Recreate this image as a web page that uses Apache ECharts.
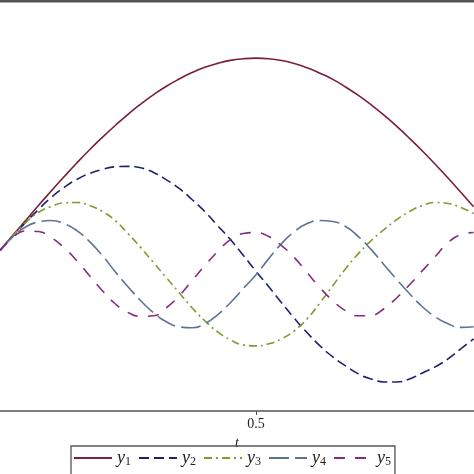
<!DOCTYPE html>
<html>
<head>
<meta charset="utf-8">
<script src="https://cdn.jsdelivr.net/npm/echarts@6/dist/echarts.min.js"></script>
<style>html,body{margin:0;padding:0;background:#fff;}#c{width:474px;height:474px;}</style>
</head>
<body>
<div id="c"></div>
<script>
var tValues = [0,0.025,0.05,0.075,0.1,0.125,0.15,0.175,0.2,0.225,0.25,0.275,0.3,0.325,0.35,0.375,0.4,0.425,0.45,0.475,0.5,0.525,0.55,0.575,0.6,0.625,0.65,0.675,0.7,0.725,0.75,0.775,0.8,0.825,0.85,0.875,0.9,0.925];
var y1 = [0,0.076,0.15,0.225,0.297,0.368,0.437,0.503,0.565,0.624,0.68,0.731,0.778,0.82,0.856,0.888,0.914,0.934,0.949,0.957,0.96,0.957,0.948,0.933,0.912,0.885,0.854,0.816,0.774,0.727,0.676,0.62,0.56,0.497,0.431,0.362,0.291,0.219];
var y2 = [0,0.07,0.14,0.205,0.265,0.315,0.355,0.385,0.405,0.418,0.42,0.413,0.39,0.353,0.31,0.255,0.195,0.125,0.055,-0.023,-0.103,-0.18,-0.26,-0.338,-0.41,-0.475,-0.53,-0.575,-0.615,-0.64,-0.655,-0.655,-0.64,-0.61,-0.58,-0.54,-0.49,-0.44];
var y3 = [0,0.073,0.14,0.19,0.22,0.238,0.24,0.225,0.195,0.15,0.085,0.015,-0.06,-0.135,-0.21,-0.285,-0.35,-0.405,-0.445,-0.47,-0.475,-0.465,-0.44,-0.4,-0.34,-0.26,-0.175,-0.09,-0.015,0.05,0.105,0.155,0.195,0.225,0.24,0.235,0.215,0.185];
var y4 = [0,0.07,0.118,0.143,0.15,0.135,0.1,0.045,-0.025,-0.105,-0.18,-0.25,-0.31,-0.355,-0.38,-0.385,-0.365,-0.32,-0.26,-0.19,-0.12,-0.04,0.035,0.095,0.135,0.15,0.145,0.12,0.07,0.005,-0.07,-0.145,-0.215,-0.28,-0.33,-0.365,-0.383,-0.38];
var y5 = [0,0.065,0.098,0.095,0.065,0.015,-0.05,-0.125,-0.2,-0.265,-0.308,-0.328,-0.325,-0.285,-0.225,-0.15,-0.075,-0.005,0.055,0.085,0.09,0.07,0.025,-0.035,-0.11,-0.185,-0.25,-0.3,-0.325,-0.323,-0.29,-0.235,-0.17,-0.1,-0.03,0.04,0.08,0.09];
var seriesNames = ['y1','y2','y3','y4','y5'];
var xTicks = [0.5];

var colors = ['#7a1f35','#1c2172','#7f9b2f','#5d7398','#872b7f'];
var dashes = ['solid',[10,5],[8,4,2,4],[20,6],[11,10]];
var allY = [y1,y2,y3,y4,y5];

function pairs(arr){ return tValues.map(function(t,i){ return [t, arr[i]]; }); }

var chart = echarts.init(document.getElementById('c'));
chart.setOption({
  animation: false,
  backgroundColor: '#fff',
  grid: {left: 0, right: 0, top: 0, bottom: 63, containLabel: false},
  xAxis: {
    type: 'value', min: 0, max: 0.9258, interval: 0.5,
    name: 't', nameLocation: 'middle', nameGap: 22,
    nameTextStyle: {fontFamily: 'Liberation Serif', fontStyle: 'italic', fontSize: 14, color: '#222'},
    axisLine: {onZero: false, lineStyle: {color: '#555', width: 1.5}},
    axisTick: {length: 4, customValues: xTicks, lineStyle: {color: '#555'}},
    axisLabel: {fontFamily: 'Liberation Serif', fontSize: 14, color: '#222', margin: 6, customValues: xTicks,
      formatter: function(v){ return String(v); }},
    splitLine: {show: false}
  },
  yAxis: {type: 'value', min: -0.8, max: 1.25, show: false},
  legend: {
    left: 71, top: 446, itemWidth: 38, itemHeight: 10, itemGap: 7,
    borderColor: '#555', borderWidth: 1.3, padding: [3, 4, 8, 2],
    data: seriesNames,
    itemStyle: {opacity: 0},
    formatter: function(n){ return '{v|y}{s|' + n.slice(1) + '}'; },
    textStyle: {
      color: '#222',
      rich: {
        v: {fontFamily: 'Liberation Serif', fontStyle: 'italic', fontSize: 18, color: '#222'},
        s: {fontFamily: 'Liberation Serif', fontSize: 12, color: '#222', verticalAlign: 'bottom', padding: [8, 0, 0, 0]}
      }
    }
  },
  graphic: [{type: 'rect', shape: {x: 0, y: 0, width: 474, height: 2.5}, style: {fill: '#555'}}],
  series: seriesNames.map(function(n, i){
    return {
      name: n, type: 'line', data: pairs(allY[i]), smooth: true, symbol: 'none',
      lineStyle: {color: colors[i], width: 1.6, type: dashes[i]},
      itemStyle: {color: colors[i]}
    };
  })
});
</script>
</body>
</html>
